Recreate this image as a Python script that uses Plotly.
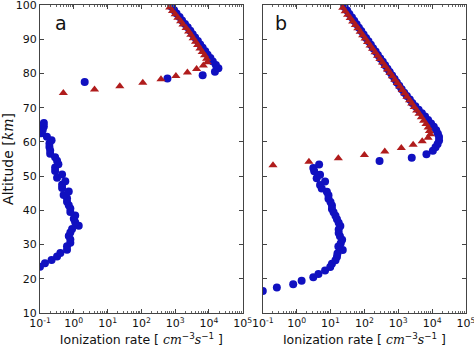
import plotly.graph_objects as go

# ---------------- Panel a ----------------
a_blue_alt = [23.5 + i for i in range(43)] + [77.5 + i for i in range(23)]
a_blue_val = [0.10, 0.14, 0.22, 0.32, 0.40, 0.63, 0.63, 0.79, 0.79, 0.71,
              0.79, 0.89, 1.4, 1.1, 1.0, 1.1, 0.79, 0.79, 0.71, 0.63,
              0.63, 0.50, 0.71, 0.45, 0.45, 0.56, 0.32, 0.45, 0.28, 0.28,
              0.35, 0.32, 0.28, 0.20, 0.20, 0.19, 0.19, 0.22, 0.16, 0.11,
              0.12, 0.13, 0.13,
              2.1, 590, 6500, 15000, 19000, 16000, 13000, 11000, 9100, 7800,
              6500, 5500, 4700, 3900, 3300, 2800, 2350, 1950, 1600, 1350,
              1100, 930, 780]

a_red_alt = [74.3 + i for i in range(26)]
a_red_val = [0.49, 4.1, 23, 110, 380, 1050, 2300, 4300, 6800, 8900,
             8500, 7400, 6300, 5400, 4600, 4000, 3400, 2900, 2500, 2100,
             1700, 1450, 1200, 1000, 830, 690]

# ---------------- Panel b ----------------
b_blue_alt = [16.4 + i for i in range(84)]
b_blue_val = [0.10, 0.26, 0.79, 1.4, 3.1, 4.4, 6.9, 9.8, 11, 14,
              15.5, 16, 23, 17, 20, 22, 19, 17.4, 17.4, 19.5,
              17.4, 15.5, 14, 12.3, 11, 11, 10, 8.7, 8.7, 7.8,
              5.5, 4.9, 6.9, 3.9, 4.9, 3.3, 3.1, 4.6,
              280, 2500, 6800, 10500, 12600, 14500, 16000, 16000, 14800, 13200,
              11200, 9300, 7600, 6200, 5000, 4000, 3200, 2600, 2200, 1800,
              1500, 1260, 1070, 910, 780, 660, 560, 480, 410, 350,
              295, 250, 215, 180, 155, 132, 112, 95, 81, 69,
              59, 50, 43, 36, 31, 26]

b_red_alt = [53.2 + i for i in range(47)]
b_red_val = [0.20, 2.3, 17, 100, 400, 1230, 2750, 5100, 7600, 8900,
             8300, 7600, 6600, 5600, 4800, 4100, 3500, 2950, 2500, 2150,
             1800, 1550, 1310, 1110, 935, 790, 670, 565, 478, 404,
             341, 288, 244, 206, 174, 147, 124, 105, 89, 75,
             64, 54, 45, 38, 32, 27, 23]

x_tick_vals = [0.1, 1, 10, 100, 1000, 10000, 100000]
x_tick_text = ["10<sup>-1</sup>", "10<sup>0</sup>", "10<sup>1</sup>", "10<sup>2</sup>",
               "10<sup>3</sup>", "10<sup>4</sup>", "10<sup>5</sup>"]
y_tick_vals = [10, 20, 30, 40, 50, 60, 70, 80, 90, 100]

BLUE = "#1010c0"
RED = "#b01c1c"
FONT = "DejaVu Sans"
SERIF = "<span style='font-family:DejaVu Serif'><i>{}</i></span>"

fig = go.Figure()
for alt, val, xa, ya in [(a_blue_alt, a_blue_val, "x", "y"), (b_blue_alt, b_blue_val, "x2", "y2")]:
    fig.add_trace(go.Scatter(x=val, y=alt, mode="markers", xaxis=xa, yaxis=ya,
                             marker=dict(symbol="circle", size=8, color=BLUE, line=dict(width=0)),
                             showlegend=False, cliponaxis=True))
for alt, val, xa, ya in [(a_red_alt, a_red_val, "x", "y"), (b_red_alt, b_red_val, "x2", "y2")]:
    fig.add_trace(go.Scatter(x=val, y=alt, mode="markers", xaxis=xa, yaxis=ya,
                             marker=dict(symbol="triangle-up", size=8, color=RED, line=dict(width=0)),
                             showlegend=False, cliponaxis=True))

xtitle = ("Ionization rate [ " + SERIF.format("cm") + "<sup>−3</sup>"
          + SERIF.format("s") + "<sup>−1</sup> ]")
ytitle = "Altitude [" + SERIF.format("km") + "]"
common_x = dict(type="log", range=[-1, 5], tickvals=x_tick_vals, ticktext=x_tick_text,
                ticks="inside", ticklen=4, tickcolor="#444", mirror="ticks", showline=True,
                linecolor="#444", linewidth=1, showgrid=False, zeroline=False, automargin=False,
                ticklabeloverflow="allow",
                tickfont=dict(family=FONT, size=11, color="#111"),
                title=dict(text=xtitle, font=dict(family=FONT, size=12.5, color="#111"), standoff=6),
                minor=dict(ticks="inside", ticklen=2, tickcolor="#666", dtick="D1", showgrid=False))
common_y = dict(range=[9.98, 100.02], tickvals=y_tick_vals, ticks="inside", ticklen=4, tickcolor="#444",
                mirror="ticks", showline=True, linecolor="#444", linewidth=1, showgrid=False,
                zeroline=False, automargin=False, tickfont=dict(family=FONT, size=11, color="#111"),
                ticklabeloverflow="allow")

fig.update_layout(
    width=474, height=347,
    margin=dict(l=40, r=8, t=5, b=34),
    paper_bgcolor="white", plot_bgcolor="white",
    xaxis=dict(domain=[0, 0.476], anchor="y", **common_x),
    xaxis2=dict(domain=[0.523, 1], anchor="y2", **common_x),
    yaxis=dict(domain=[0, 1], anchor="x",
               title=dict(text=ytitle, font=dict(family=FONT, size=14, color="#111"), standoff=4),
               **common_y),
    yaxis2=dict(domain=[0, 1], anchor="x2", showticklabels=False, **common_y),
    annotations=[
        dict(text="a", x=0.03, y=0.985, xref="paper", yref="paper", xanchor="left", yanchor="top",
             showarrow=False, font=dict(family=FONT, size=19, color="#111")),
        dict(text="b", x=0.548, y=0.985, xref="paper", yref="paper", xanchor="left", yanchor="top",
             showarrow=False, font=dict(family=FONT, size=19, color="#111")),
    ],
)

fig.write_html("out.html")
